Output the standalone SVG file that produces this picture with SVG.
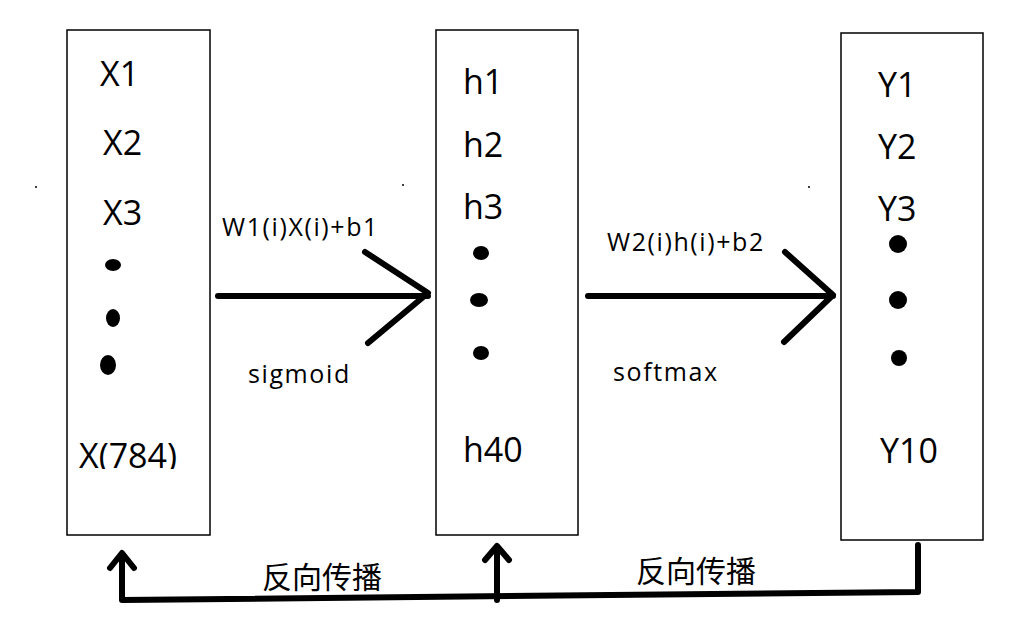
<svg xmlns="http://www.w3.org/2000/svg" width="1020" height="621" viewBox="0 0 1020 621">
<style>
.box{fill:#fff;stroke:#000;stroke-width:1.5}
.t{font-family:"Open Sans","Noto Sans",sans-serif;font-size:34px;fill:#000}
.s{font-family:"Open Sans","Noto Sans",sans-serif;font-size:25px;letter-spacing:1.6px;fill:#000}
.c{font-family:"Noto Sans CJK SC",sans-serif;font-size:30px;fill:#000}
.ln{fill:none;stroke:#000;stroke-width:6;stroke-linecap:round;stroke-linejoin:round}
</style>
<rect width="1020" height="621" fill="#fff"/>
<g id="input">
<rect class="box" x="67" y="30" width="143" height="505"/>
<text class="t" x="100" y="86">X1</text>
<text class="t" x="103" y="155">X2</text>
<text class="t" x="103" y="225">X3</text>
<ellipse cx="113" cy="265" rx="8" ry="6"/>
<ellipse cx="113" cy="318" rx="7" ry="9"/>
<ellipse cx="108" cy="365" rx="8" ry="10"/>
<text class="t" x="79" y="468">X(784)</text>
<rect x="68" y="469" width="141" height="12" fill="#fff"/>
</g>
<g id="hidden">
<rect class="box" x="436" y="30" width="142" height="505"/>
<text class="t" x="463" y="94">h1</text>
<text class="t" x="463" y="157">h2</text>
<text class="t" x="463" y="219">h3</text>
<ellipse cx="481" cy="253" rx="8" ry="7"/>
<ellipse cx="479" cy="300" rx="9" ry="7"/>
<ellipse cx="481" cy="353" rx="8" ry="7"/>
<text class="t" x="463" y="462">h40</text>
</g>
<g id="output">
<rect class="box" x="841" y="33" width="142" height="507"/>
<text class="t" x="878" y="97">Y1</text>
<text class="t" x="878" y="159">Y2</text>
<text class="t" x="878" y="221">Y3</text>
<ellipse cx="898" cy="244" rx="9" ry="9"/>
<ellipse cx="898" cy="300" rx="9" ry="9"/>
<ellipse cx="899" cy="358" rx="8" ry="8"/>
<text class="t" x="880" y="463">Y10</text>
</g>
<g id="connectors">
<path class="ln" d="M218 296H428M365 252L428 293L368 343"/>
<path class="ln" d="M588 296H833M785 252L833 295L784 342"/>
<path class="ln" d="M918 545V592L122 600V555M110 568L122 553L134 568"/>
<path class="ln" d="M497 600V548M485 560L497 546L509 560"/>
</g>
<g id="labels">
<text class="s" x="222" y="236">W1(i)X(i)+b1</text>
<text class="s" x="248" y="383">sigmoid</text>
<text class="s" x="607" y="251">W2(i)h(i)+b2</text>
<text class="s" x="613" y="381">softmax</text>
<text class="c" x="262" y="588">反向传播</text>
<text class="c" x="636" y="582">反向传播</text>
</g>
<g id="specks">
<circle cx="36" cy="187" r="1"/><circle cx="403" cy="185" r="1"/><circle cx="809" cy="187" r="1"/>
</g>
</svg>
